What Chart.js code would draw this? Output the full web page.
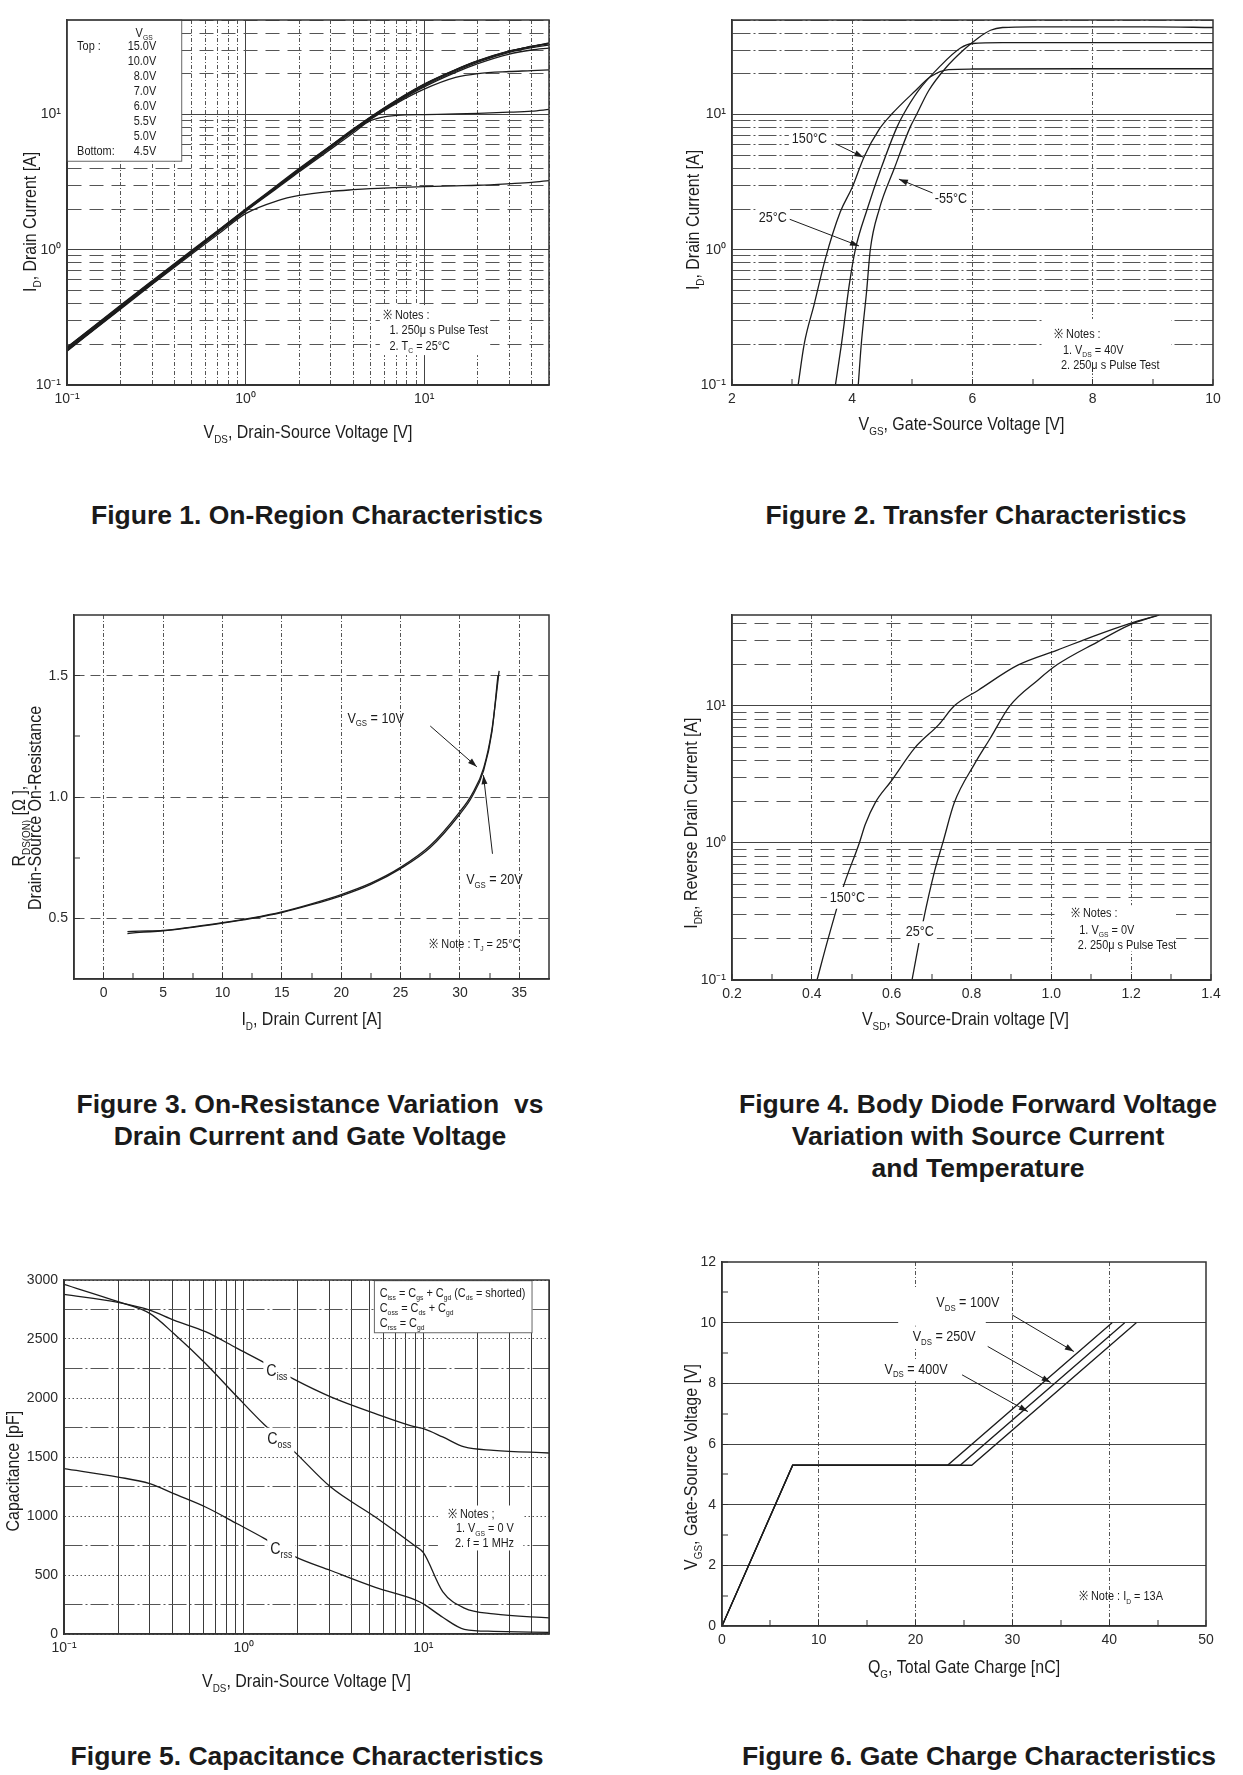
<!DOCTYPE html>
<html>
<head>
<meta charset="utf-8">
<title>MOSFET typical characteristics</title>
<script src="https://cdn.jsdelivr.net/npm/chart.js@4.4.1/dist/chart.umd.min.js"></script>
<style>
  body { margin: 0; width: 1243px; height: 1775px; position: relative; overflow: hidden; background: #fff; }
  canvas { position: absolute; }
  .caption { position: absolute; width: 600px; text-align: center; font: bold 26.5px "Liberation Sans", Arial, sans-serif; line-height: 32px; color: #1a1a1a; }
</style>
</head>
<body>
<div class="caption" style="left:17px;top:499px">Figure 1. On-Region Characteristics</div>
<div class="caption" style="left:676px;top:499px">Figure 2. Transfer Characteristics</div>
<div class="caption" style="left:10px;top:1088px">Figure 3. On-Resistance Variation&nbsp; vs<br>Drain Current and Gate Voltage</div>
<div class="caption" style="left:678px;top:1088px">Figure 4. Body Diode Forward Voltage<br>Variation with Source Current<br>and Temperature</div>
<div class="caption" style="left:7px;top:1740px">Figure 5. Capacitance Characteristics</div>
<div class="caption" style="left:679px;top:1740px">Figure 6. Gate Charge Characteristics</div>

<script>
const FONT = "'Liberation Sans Narrow', 'Arial Narrow', 'Liberation Sans', Arial, sans-serif"
const INK = "#1c1c1c"
const GRID = "#555"
// space around each plot box inside its canvas
const PADL = 85, PADR = 30, PADT = 25, PADB = 80

// no narrow face installed -> squeeze our own text a bit
const probe = document.createElement("canvas").getContext("2d")
probe.font = "40px 'Liberation Sans Narrow', monospace"
const probeA = probe.measureText("Drain Source").width
probe.font = "40px monospace"
const probeB = probe.measureText("Drain Source").width
const SQ = probeA === probeB ? 0.84 : 1

// shared log ticks (0.1 .. 50)
const logTicks = [0.1, 0.2, 0.3, 0.4, 0.5, 0.6, 0.7, 0.8, 0.9, 1, 2, 3, 4, 5, 6, 7, 8, 9, 10, 20, 30, 40, 50]
const logTickLabels = ["10⁻¹", "", "", "", "", "", "", "", "", "10⁰", "", "", "", "", "", "", "", "", "10¹", "", "", "", ""]

// Figure 1 - I_D vs V_DS for each V_GS
const fig1VgsLabels = ["15.0V", "10.0V", "8.0V", "7.0V", "6.0V", "5.5V", "5.0V", "4.5V"]
const fig1Vds = [0.1, 0.2, 0.3, 0.5, 0.7, 1, 1.5, 2, 3, 4, 5, 7, 10, 15, 20, 30, 40, 50]
const fig1Id15 = [0.19, 0.39, 0.59, 0.99, 1.39, 2.0, 3.0, 4.0, 5.9, 7.8, 9.6, 12.8, 16.8, 21.5, 25.0, 29.5, 32.0, 33.8]
const fig1Id10 = [0.185, 0.38, 0.58, 0.97, 1.37, 1.97, 2.95, 3.95, 5.88, 7.75, 9.55, 12.7, 16.7, 21.4, 24.9, 29.4, 31.9, 33.6]
const fig1Id8 = [0.19, 0.385, 0.585, 0.98, 1.38, 1.98, 2.96, 3.93, 5.85, 7.7, 9.5, 12.6, 16.6, 21.3, 24.8, 29.3, 31.8, 33.4]
const fig1Id7 = [0.18, 0.375, 0.575, 0.965, 1.35, 1.95, 2.9, 3.87, 5.8, 7.65, 9.4, 12.5, 16.3, 20.9, 24.4, 28.8, 31.2, 32.6]
const fig1Id6 = [0.185, 0.38, 0.58, 0.97, 1.36, 1.96, 2.92, 3.88, 5.75, 7.6, 9.3, 12.3, 16.0, 20.5, 23.8, 28.0, 30.0, 31.0]
const fig1Id55 = [0.18, 0.37, 0.57, 0.96, 1.35, 1.94, 2.9, 3.85, 5.7, 7.5, 9.2, 12.1, 15.4, 18.8, 20.1, 20.8, 21.1, 21.4]
const fig1Id5 = [0.18, 0.37, 0.56, 0.95, 1.34, 1.92, 2.85, 3.78, 5.55, 7.3, 9.0, 9.85, 10.0, 10.1, 10.2, 10.4, 10.6, 10.9]
const fig1Id45 = [0.178, 0.365, 0.555, 0.93, 1.3, 1.85, 2.3, 2.52, 2.7, 2.78, 2.83, 2.88, 2.93, 2.97, 3.0, 3.08, 3.15, 3.25]

// Figure 2 - transfer curves at three temperatures
const fig2XTicks = [2, 3, 4, 5, 6, 7, 8, 9, 10]
const fig2XLabels = ["2", "", "4", "", "6", "", "8", "", "10"]
const fig2Vgs150 = [3.1, 3.2, 3.37, 3.55, 3.8, 4.0, 4.2, 4.45, 4.65, 5.05, 5.3, 5.6, 6, 8, 10]
const fig2Id150 = [0.1, 0.2, 0.4, 0.85, 1.9, 2.9, 4.9, 7.8, 10, 15, 19, 21.5, 21.7, 21.8, 21.8]
const fig2Vgs25 = [3.72, 3.82, 3.95, 4.05, 4.25, 4.48, 4.74, 4.85, 5.1, 5.45, 5.8, 6.0, 6.5, 8, 10]
const fig2Id25 = [0.1, 0.2, 0.55, 1.0, 2.0, 4.0, 8.0, 10, 15, 22.5, 31, 33.5, 34, 34, 34]
const fig2VgsM55 = [4.1, 4.15, 4.24, 4.3, 4.45, 4.7, 4.96, 5.07, 5.27, 5.55, 5.85, 6.1, 6.3, 6.5, 7, 8, 9, 10]
const fig2IdM55 = [0.1, 0.2, 0.5, 1.0, 2.0, 4.0, 8.0, 10, 15, 22, 30, 37, 42, 44, 44.5, 44.5, 44.5, 44]

// Figure 3 - R_DS(on) vs I_D
const fig3XTicks = [0, 2.5, 5, 7.5, 10, 12.5, 15, 17.5, 20, 22.5, 25, 27.5, 30, 32.5, 35]
const fig3XLabels = ["0", "", "5", "", "10", "", "15", "", "20", "", "25", "", "30", "", "35"]
const fig3YTicks = [0.5, 0.75, 1.0, 1.25, 1.5]
const fig3YLabels = ["0.5", "", "1.0", "", "1.5"]
const fig3Id10 = [2, 3, 5, 7.5, 10, 12.5, 15, 17.5, 20, 22.5, 25, 27.5, 30, 31, 32, 32.7, 33.3]
const fig3R10 = [0.445, 0.447, 0.45, 0.465, 0.482, 0.502, 0.527, 0.56, 0.598, 0.645, 0.71, 0.8, 0.94, 1.01, 1.12, 1.28, 1.52]
const fig3Id20 = [2, 3, 5, 7.5, 10, 12.5, 15, 17.5, 20, 22.5, 25, 27.5, 30, 31, 32, 32.7, 33.2]
const fig3R20 = [0.437, 0.442, 0.448, 0.463, 0.48, 0.5, 0.524, 0.556, 0.593, 0.64, 0.705, 0.792, 0.93, 1.0, 1.11, 1.27, 1.5]

// Figure 4 - body diode forward voltage
const fig4XTicks = [0.2, 0.3, 0.4, 0.5, 0.6, 0.7, 0.8, 0.9, 1.0, 1.1, 1.2, 1.3, 1.4]
const fig4XLabels = ["0.2", "", "0.4", "", "0.6", "", "0.8", "", "1.0", "", "1.2", "", "1.4"]
const fig4YTicks = [0.1, 0.2, 0.3, 0.4, 0.5, 0.6, 0.7, 0.8, 0.9, 1, 2, 3, 4, 5, 6, 7, 8, 9, 10, 20, 30, 40]
const fig4YLabels = ["10⁻¹", "", "", "", "", "", "", "", "", "10⁰", "", "", "", "", "", "", "", "", "10¹", "", "", ""]
const fig4Vsd150 = [0.413, 0.44, 0.48, 0.519, 0.534, 0.559, 0.599, 0.658, 0.718, 0.757, 0.817, 0.916, 1.015, 1.115, 1.194, 1.27]
const fig4Idr150 = [0.1, 0.196, 0.49, 1.0, 1.37, 1.97, 2.83, 4.94, 7.3, 10, 13, 19.8, 25.5, 33, 39.7, 46]
const fig4Vsd25 = [0.651, 0.678, 0.708, 0.728, 0.757, 0.807, 0.847, 0.896, 0.966, 1.015, 1.115, 1.194, 1.27]
const fig4Idr25 = [0.1, 0.26, 0.63, 1.0, 1.97, 3.74, 5.8, 10, 15.4, 20, 29.2, 38.7, 46]

// Figure 5 - capacitances vs V_DS
const fig5YTicks = [0, 250, 500, 750, 1000, 1250, 1500, 1750, 2000, 2250, 2500, 2750, 3000]
const fig5YLabels = ["0", "", "500", "", "1000", "", "1500", "", "2000", "", "2500", "", "3000"]
const fig5Vds = [0.1, 0.2, 0.3, 0.408, 0.613, 0.92, 1.3, 1.9, 3.05, 5.4, 9.0, 10, 12.8, 16.9, 24.6, 50]
const fig5Ciss = [2878, 2811, 2745, 2660, 2562, 2420, 2300, 2160, 2010, 1868, 1755, 1740, 1670, 1585, 1557, 1534]
const fig5Coss = [2963, 2816, 2717, 2547, 2293, 2010, 1775, 1550, 1245, 991, 745, 690, 360, 220, 170, 136]
const fig5Crss = [1401, 1330, 1274, 1189, 1076, 934, 810, 660, 538, 396, 290, 255, 142, 40, 23, 14]

// Figure 6 - gate charge
const fig6XTicks = [0, 5, 10, 15, 20, 25, 30, 35, 40, 45, 50]
const fig6XLabels = ["0", "", "10", "", "20", "", "30", "", "40", "", "50"]
const fig6YTicks = [0, 1, 2, 3, 4, 5, 6, 7, 8, 9, 10, 11, 12]
const fig6YLabels = ["0", "", "2", "", "4", "", "6", "", "8", "", "10", "", "12"]
const fig6Qg100 = [0, 7.3, 23.3, 40.3]
const fig6Qg250 = [0, 7.3, 24.6, 41.6]
const fig6Qg400 = [0, 7.3, 25.8, 42.8]
const fig6Vgs = [0, 5.3, 5.3, 10]

// grid line styles
const SOLID = { dash: [], color: "#444" }
const DASH_DOT = { dash: [4, 2, 1, 2] }
const LONG_DASH = { dash: [14, 8] }
const LONG_DASH_DOT = { dash: [18, 3, 2, 3] }
const DASH = { dash: [10, 6] }
const DOTTED = { dash: [1.5, 2.5] }

Chart.defaults.font.family = FONT

function series(xs, ys, width) {
  return {
    data: xs.map((x, i) => ({ x, y: ys[i] })),
    borderColor: INK,
    borderWidth: width || 1.3,
    pointRadius: 0,
    fill: false,
    cubicInterpolationMode: "monotone",
  }
}

function axis(side, type, min, max, values, labels, gridAt, innerTicks) {
  const styleAt = (c) => (c && c.tick ? gridAt(c.index) : null)
  return {
    type, min, max,
    position: side === "x" ? "bottom" : "left",
    afterBuildTicks: (s) => { s.ticks = values.map((v) => ({ value: v })) },
    afterFit: (s) => { if (side === "x") s.height = PADB; else s.width = PADL },
    ticks: {
      autoSkip: false, maxRotation: 0, minRotation: 0,
      padding: innerTicks ? 12 : 6,
      color: "#2a2a2a",
      font: { family: FONT, size: 14 },
      callback: (v, i) => labels[i],
    },
    grid: {
      drawTicks: innerTicks, tickLength: -6, tickWidth: 1, tickColor: "#333",
      color: (c) => { const g = styleAt(c); return g ? g.color || GRID : "rgba(0,0,0,0)" },
      lineWidth: (c) => (styleAt(c) ? 1 : 0),
    },
    border: { color: "#333", width: 1.5, dash: (c) => { const g = styleAt(c); return g ? g.dash : [] } },
  }
}

// text with _{sub} and ^{sup} parts
function richParts(str) {
  const parts = []
  let buf = "", i = 0
  while (i < str.length) {
    const ch = str[i]
    if ((ch === "_" || ch === "^") && str[i + 1] === "{") {
      if (buf) parts.push({ t: buf, m: 0 })
      buf = ""
      const end = str.indexOf("}", i)
      parts.push({ t: str.slice(i + 2, end), m: ch === "_" ? 1 : -1 })
      i = end + 1
    } else {
      buf += ch
      i++
    }
  }
  if (buf) parts.push({ t: buf, m: 0 })
  return parts
}

function drawRich(ctx, str, x, y, size, align, bg) {
  const parts = richParts(str)
  let total = 0
  parts.forEach((p) => {
    p.size = p.m ? size * 0.62 : size
    ctx.font = p.size + "px " + FONT
    p.w = ctx.measureText(p.t).width * SQ
    total += p.w
  })
  let cx = align === "center" ? x - total / 2 : align === "right" ? x - total : x
  if (bg) {
    ctx.save()
    ctx.fillStyle = "#fff"
    ctx.fillRect(cx - 3, y - size * 0.7, total + 6, size * 1.45)
    ctx.restore()
  }
  ctx.textAlign = "left"
  ctx.textBaseline = "middle"
  parts.forEach((p) => {
    ctx.font = p.size + "px " + FONT
    const dy = p.m === 1 ? size * 0.34 : p.m === -1 ? -size * 0.36 : 0
    ctx.save()
    ctx.translate(cx, y + dy)
    ctx.scale(SQ, 1)
    ctx.fillText(p.t, 0, 0)
    ctx.restore()
    cx += p.w
  })
}

function arrow(ctx, x1, y1, x2, y2) {
  ctx.strokeStyle = INK
  ctx.fillStyle = INK
  ctx.lineWidth = 1
  ctx.beginPath()
  ctx.moveTo(x1, y1)
  ctx.lineTo(x2, y2)
  ctx.stroke()
  const ang = Math.atan2(y2 - y1, x2 - x1), L = 9, W = 3
  ctx.beginPath()
  ctx.moveTo(x2, y2)
  ctx.lineTo(x2 - L * Math.cos(ang) + W * Math.sin(ang), y2 - L * Math.sin(ang) - W * Math.cos(ang))
  ctx.lineTo(x2 - L * Math.cos(ang) - W * Math.sin(ang), y2 - L * Math.sin(ang) + W * Math.cos(ang))
  ctx.closePath()
  ctx.fill()
}

// notes, labels, frame and axis titles; positions are fractions of the plot box
function decoration(spec) {
  return {
    id: "decoration",
    afterDatasetsDraw(chart) {
      const ctx = chart.ctx, a = chart.chartArea
      const px = (f) => a.left + f * (a.right - a.left)
      const py = (f) => a.top + f * (a.bottom - a.top)
      ctx.save()
      spec.items.forEach((it) => {
        if (it.box) {
          const [x1, y1, x2, y2] = it.box
          ctx.fillStyle = "#fff"
          ctx.fillRect(px(x1), py(y1), px(x2) - px(x1), py(y2) - py(y1))
          if (it.frame) {
            ctx.strokeStyle = "#666"
            ctx.lineWidth = 1
            ctx.strokeRect(px(x1), py(y1), px(x2) - px(x1), py(y2) - py(y1))
          }
        } else if (it.arrow) {
          const [x1, y1, x2, y2] = it.arrow
          arrow(ctx, px(x1), py(y1), px(x2), py(y2))
        } else {
          ctx.fillStyle = INK
          drawRich(ctx, it.text, px(it.at[0]), py(it.at[1]), it.size || 13, it.align || "left", it.bg)
        }
      })
      ctx.strokeStyle = "#333"
      ctx.lineWidth = 1.5
      ctx.strokeRect(a.left, a.top, a.right - a.left, a.bottom - a.top)
      ctx.fillStyle = INK
      drawRich(ctx, spec.xTitle, (a.left + a.right) / 2 + (spec.xShift || 0), a.bottom + spec.xGap, 19, "center")
      spec.yTitles.forEach((t) => {
        ctx.save()
        ctx.translate(a.left - t.gap, py(t.at))
        ctx.rotate(-Math.PI / 2)
        ctx.fillStyle = INK
        drawRich(ctx, t.text, 0, 0, 19, "center")
        ctx.restore()
      })
      ctx.restore()
    },
  }
}

function makeChart(box, datasets, x, y, spec) {
  const c = document.createElement("canvas")
  const w = box.r - box.l + PADL + PADR
  const h = box.b - box.t + PADT + PADB
  c.width = w
  c.height = h
  c.style.left = box.l - PADL + "px"
  c.style.top = box.t - PADT + "px"
  c.style.width = w + "px"
  c.style.height = h + "px"
  document.body.appendChild(c)
  return new Chart(c, {
    type: "line",
    data: { datasets },
    options: {
      responsive: false,
      animation: false,
      events: [],
      layout: { padding: { left: 0, top: PADT, right: PADR, bottom: 0 } },
      plugins: { legend: { display: false }, tooltip: { enabled: false } },
      scales: { x, y },
    },
    plugins: [decoration(spec)],
  })
}

const decadeOrMinor = (labels, minor) => (i) => (labels[i] ? SOLID : minor)
const onLabelled = (labels, style) => (i) => (labels[i] && i > 0 && i < labels.length - 1 ? style : null)

// ---------- Figure 1
makeChart(
  { l: 67, t: 20, r: 549, b: 385 },
  [fig1Id15, fig1Id10, fig1Id8, fig1Id7, fig1Id6, fig1Id55, fig1Id5, fig1Id45].map((ys) => series(fig1Vds, ys)),
  axis("x", "logarithmic", 0.1, 50, logTicks, logTickLabels, decadeOrMinor(logTickLabels, DASH_DOT), false),
  axis("y", "logarithmic", 0.1, 50, logTicks, logTickLabels, decadeOrMinor(logTickLabels, LONG_DASH), false),
  {
    xTitle: "V_{DS}, Drain-Source Voltage [V]", xGap: 48,
    yTitles: [{ text: "I_{D}, Drain Current [A]", gap: 36, at: 0.553 }],
    items: [
      { box: [0, 0, 0.238, 0.387], frame: true },
      { text: "V_{GS}", at: [0.16, 0.036], align: "center" },
      { text: "Top :", at: [0.021, 0.073] },
      { text: "Bottom:", at: [0.021, 0.36] },
      ...fig1VgsLabels.map((s, i) => ({ text: s, at: [0.185, 0.073 + i * 0.0412], align: "right" })),
      { box: [0.649, 0.781, 0.878, 0.918] },
      { text: "※ Notes :", at: [0.655, 0.809] },
      { text: "1. 250μ s Pulse Test", at: [0.669, 0.85] },
      { text: "2. T_{C} = 25°C", at: [0.669, 0.893] },
    ],
  }
)

// ---------- Figure 2
makeChart(
  { l: 732, t: 20, r: 1213, b: 385 },
  [series(fig2Vgs150, fig2Id150), series(fig2Vgs25, fig2Id25), series(fig2VgsM55, fig2IdM55)],
  axis("x", "linear", 2, 10, fig2XTicks, fig2XLabels, onLabelled(fig2XLabels, DASH_DOT), true),
  axis("y", "logarithmic", 0.1, 50, logTicks, logTickLabels, decadeOrMinor(logTickLabels, LONG_DASH_DOT), false),
  {
    xTitle: "V_{GS}, Gate-Source Voltage [V]", xGap: 40, xShift: -11,
    yTitles: [{ text: "I_{D}, Drain Current [A]", gap: 38, at: 0.548 }],
    items: [
      { text: "150°C", at: [0.161, 0.326], align: "center", size: 15, bg: true },
      { arrow: [0.215, 0.339, 0.273, 0.376] },
      { text: "25°C", at: [0.085, 0.541], align: "center", size: 15, bg: true },
      { arrow: [0.12, 0.546, 0.264, 0.619] },
      { text: "-55°C", at: [0.455, 0.491], align: "center", size: 15, bg: true },
      { arrow: [0.417, 0.474, 0.347, 0.436] },
      { box: [0.645, 0.819, 0.913, 0.968] },
      { text: "※ Notes :", at: [0.669, 0.862] },
      { text: "1. V_{DS} = 40V", at: [0.688, 0.906] },
      { text: "2. 250μ s Pulse Test", at: [0.684, 0.945] },
    ],
  }
)

// ---------- Figure 3
makeChart(
  { l: 74, t: 615, r: 549, b: 979 },
  [series(fig3Id10, fig3R10), series(fig3Id20, fig3R20)],
  axis("x", "linear", -2.5, 37.5, fig3XTicks, fig3XLabels, (i) => (fig3XLabels[i] ? DASH_DOT : null), true),
  axis("y", "linear", 0.25, 1.75, fig3YTicks, fig3YLabels, (i) => (fig3YLabels[i] ? DASH : null), true),
  {
    xTitle: "I_{D}, Drain Current [A]", xGap: 41,
    yTitles: [
      { text: "R_{DS(ON)} [Ω ],", gap: 54, at: 0.58 },
      { text: "Drain-Source On-Resistance", gap: 38, at: 0.53 },
    ],
    items: [
      { text: "V_{GS} = 10V", at: [0.635, 0.284], align: "center", size: 15 },
      { arrow: [0.75, 0.305, 0.848, 0.417] },
      { text: "V_{GS} = 20V", at: [0.885, 0.728], align: "center", size: 15 },
      { arrow: [0.881, 0.656, 0.862, 0.44] },
      { text: "※ Note : T_{J} = 25°C", at: [0.7475, 0.906] },
    ],
  }
)

// ---------- Figure 4
makeChart(
  { l: 732, t: 615, r: 1211, b: 980 },
  [series(fig4Vsd150, fig4Idr150), series(fig4Vsd25, fig4Idr25)],
  axis("x", "linear", 0.2, 1.4, fig4XTicks, fig4XLabels, onLabelled(fig4XLabels, DASH_DOT), true),
  axis("y", "logarithmic", 0.1, 46, fig4YTicks, fig4YLabels, decadeOrMinor(fig4YLabels, LONG_DASH), false),
  {
    xTitle: "V_{SD}, Source-Drain voltage [V]", xGap: 40, xShift: -6,
    yTitles: [{ text: "I_{DR}, Reverse Drain Current [A]", gap: 40, at: 0.57 }],
    items: [
      { text: "150°C", at: [0.241, 0.774], align: "center", size: 15, bg: true },
      { text: "25°C", at: [0.392, 0.868], align: "center", size: 15, bg: true },
      { box: [0.68, 0.795, 0.927, 0.922] },
      { text: "※ Notes :", at: [0.707, 0.818] },
      { text: "1. V_{GS} = 0V", at: [0.725, 0.863] },
      { text: "2. 250μ s Pulse Test", at: [0.722, 0.904] },
    ],
  }
)

// ---------- Figure 5
makeChart(
  { l: 64, t: 1280, r: 549, b: 1634 },
  [series(fig5Vds, fig5Ciss), series(fig5Vds, fig5Coss), series(fig5Vds, fig5Crss)],
  axis("x", "logarithmic", 0.1, 50, logTicks, logTickLabels, () => ({ dash: [], color: "#3a3a3a" }), false),
  axis("y", "linear", 0, 3000, fig5YTicks, fig5YLabels, (i) => (fig5YLabels[i] ? DOTTED : LONG_DASH_DOT), false),
  {
    xTitle: "V_{DS}, Drain-Source Voltage [V]", xGap: 48,
    yTitles: [{ text: "Capacitance [pF]", gap: 50, at: 0.54 }],
    items: [
      { box: [0.64, 0.002, 0.965, 0.149], frame: true },
      { text: "C_{iss} = C_{gs} + C_{gd} (C_{ds} = shorted)", at: [0.651, 0.038] },
      { text: "C_{oss} = C_{ds} + C_{gd}", at: [0.651, 0.08] },
      { text: "C_{rss} = C_{gd}", at: [0.651, 0.123] },
      { text: "C_{iss}", at: [0.439, 0.257], align: "center", size: 17, bg: true },
      { text: "C_{oss}", at: [0.444, 0.451], align: "center", size: 17, bg: true },
      { text: "C_{rss}", at: [0.448, 0.761], align: "center", size: 17, bg: true },
      { box: [0.771, 0.637, 0.947, 0.764] },
      { text: "※ Notes ;", at: [0.791, 0.662] },
      { text: "1. V_{GS} = 0 V", at: [0.808, 0.703] },
      { text: "2. f = 1 MHz", at: [0.806, 0.745] },
    ],
  }
)

// ---------- Figure 6
makeChart(
  { l: 722, t: 1262, r: 1206, b: 1626 },
  [fig6Qg100, fig6Qg250, fig6Qg400].map((xs) => ({ ...series(xs, fig6Vgs), cubicInterpolationMode: "default", tension: 0 })),
  axis("x", "linear", 0, 50, fig6XTicks, fig6XLabels, onLabelled(fig6XLabels, DASH_DOT), true),
  axis("y", "linear", 0, 12, fig6YTicks, fig6YLabels, onLabelled(fig6YLabels, SOLID), true),
  {
    xTitle: "Q_{G}, Total Gate Charge [nC]", xGap: 42,
    yTitles: [{ text: "V_{GS}, Gate-Source Voltage [V]", gap: 30, at: 0.563 }],
    items: [
      { box: [0.364, 0.07, 0.545, 0.175] },
      { text: "V_{DS} = 100V", at: [0.508, 0.113], align: "center", size: 15 },
      { arrow: [0.599, 0.145, 0.727, 0.246] },
      { text: "V_{DS} = 250V", at: [0.459, 0.206], align: "center", size: 15, bg: true },
      { arrow: [0.549, 0.232, 0.679, 0.331] },
      { text: "V_{DS} = 400V", at: [0.401, 0.296], align: "center", size: 15, bg: true },
      { arrow: [0.496, 0.31, 0.632, 0.411] },
      { text: "※ Note : I_{D} = 13A", at: [0.737, 0.92] },
    ],
  }
)
</script>
</body>
</html>
